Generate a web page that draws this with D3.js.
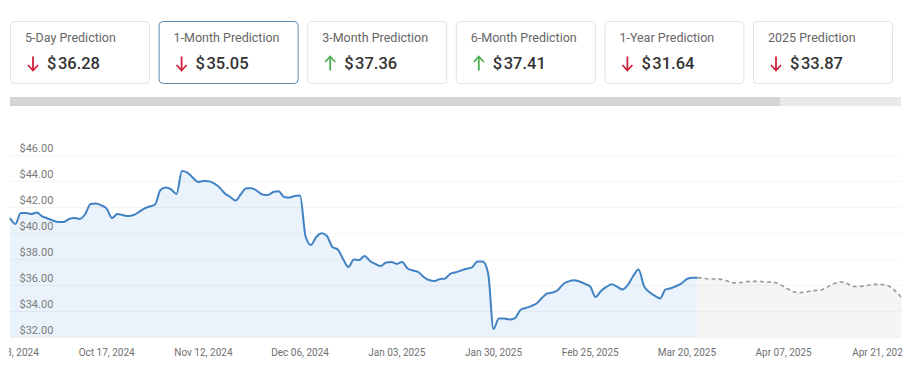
<!DOCTYPE html>
<html>
<head>
<meta charset="utf-8">
<script src="https://cdn.jsdelivr.net/npm/d3@7"></script>
<style>
  body { margin: 0; background: #fff; font-family: Roboto, "Noto Sans", sans-serif; }
  svg { display: block; }
</style>
</head>
<body>
<svg id="chart"></svg>
<script>
var width = 911, height = 367;

// prediction cards
var cardTitles = ["5-Day Prediction", "1-Month Prediction", "3-Month Prediction", "6-Month Prediction", "1-Year Prediction", "2025 Prediction"];
var cardValues = [36.28, 35.05, 37.36, 37.41, 31.64, 33.87];
var cardUp = [false, false, true, true, false, false];
var selectedCard = 1;

// closing prices (one per trading day)
var closes = [
  41.15, 40.69, 41.54, 41.54, 41.46, 41.58, 41.27, 41.12, 40.96, 40.85,
  40.85, 41.08, 41.15, 41.08, 41.46, 42.23, 42.27, 42.12, 41.88, 41.15,
  41.46, 41.38, 41.31, 41.38, 41.62, 41.88, 42.04, 42.19, 43.31, 43.50,
  43.35, 43.00, 44.77, 44.65, 44.27, 43.92, 44.00, 43.98, 43.81, 43.50,
  43.04, 42.77, 42.50, 43.00, 43.44, 43.44, 43.23, 42.96, 42.92, 43.15,
  43.21, 42.77, 42.73, 42.85, 42.88, 39.77, 39.08, 39.69, 39.98, 39.77,
  38.92, 38.73, 38.00, 37.38, 37.96, 37.92, 38.23, 37.85, 37.62, 37.46,
  37.73, 37.77, 37.62, 37.77, 37.27, 37.12, 37.00, 36.62, 36.38, 36.31,
  36.45, 36.50, 36.88, 36.98, 37.12, 37.25, 37.35, 37.81, 37.81, 36.90,
  32.62, 33.42, 33.42, 33.35, 33.46, 34.08, 34.23, 34.38, 34.58, 35.00,
  35.35, 35.42, 35.62, 36.08, 36.28, 36.37, 36.27, 36.09, 35.88, 35.08,
  35.54, 35.85, 36.05, 35.88, 35.65, 36.00, 36.69, 37.19, 35.92, 35.46,
  35.19, 34.96, 35.65, 35.75, 35.92, 36.12, 36.46, 36.56, 36.56
];

// forecast, starting at the last close
var forecast = [
  36.56, 36.54, 36.46, 36.46, 36.45, 36.38, 36.23, 36.15, 36.19, 36.25,
  36.28, 36.28, 36.26, 36.23, 36.21, 36.12, 35.88, 35.65, 35.46, 35.41,
  35.46, 35.54, 35.59, 35.62, 35.81, 36.04, 36.19, 36.23, 36.08, 35.88,
  35.88, 35.94, 36.00, 36.05, 36.05, 36.00, 35.81, 35.46, 35.00
];

var tickLabels = ["Sep 23, 2024", "Oct 17, 2024", "Nov 12, 2024", "Dec 06, 2024", "Jan 03, 2025",
                  "Jan 30, 2025", "Feb 25, 2025", "Mar 20, 2025", "Apr 07, 2025", "Apr 21, 2025"];
var tickEvery = 18;
var yTicks = [32, 34, 36, 38, 40, 42, 44, 46];

var svg = d3.select("#chart").attr("width", width).attr("height", height);

// ---- cards ----
var cardW = 139, cardH = 62, cardStep = 148.6;
var card = svg.selectAll(".card")
    .data(cardTitles)
    .enter()
    .append("g")
    .attr("class", "card")
    .attr("transform", (d, i) => "translate(" + (10.5 + i * cardStep) + ",21.5)");

card.append("rect")
    .attr("width", cardW)
    .attr("height", cardH)
    .attr("rx", 4)
    .attr("fill", "#fff")
    .attr("stroke", (d, i) => i == selectedCard ? "#5a8ab3" : "#e2e2e2");

card.append("text")
    .attr("x", 14.5)
    .attr("y", 20.5)
    .attr("fill", "#666")
    .style("font-size", "12.5px")
    .text(d => d);

card.each(function(d, i) {
    var g = d3.select(this);
    var col = cardUp[i] ? "#4caf50" : "#d0213b";
    var ax = 22.5, top = 35, bot = 49;
    g.append("line")
        .attr("x1", ax).attr("x2", ax).attr("y1", top).attr("y2", bot)
        .attr("stroke", col).attr("stroke-width", 1.8);
    var hy = cardUp[i] ? top : bot, dir = cardUp[i] ? 1 : -1;
    g.append("path")
        .attr("d", "M" + (ax - 5) + "," + (hy + dir * 5.5) + "L" + ax + "," + hy + "L" + (ax + 5) + "," + (hy + dir * 5.5))
        .attr("fill", "none").attr("stroke", col).attr("stroke-width", 1.8);
    var t = g.append("text")
        .attr("x", 36.5).attr("y", 47)
        .attr("fill", "#333")
        .style("font-size", "16.5px")
        .style("font-weight", 500);
    t.append("tspan").text("$");
    t.append("tspan").attr("dx", 1.5).text(cardValues[i].toFixed(2));
});

// ---- range bar ----
svg.append("rect").attr("x", 10).attr("y", 97).attr("width", 891).attr("height", 9).attr("fill", "#e9e9ea");
svg.append("rect").attr("x", 10).attr("y", 97).attr("width", 770).attr("height", 9).attr("fill", "#d3d4d6");

// ---- chart ----
var x = d3.scaleLinear()
    .domain([0, closes.length - 1 + forecast.length - 1])
    .range([10, 901.8]);
var y = d3.scaleLinear().domain([32, 46]).range([337, 155]);
var off = closes.length - 1;

var area = d3.area().curve(d3.curveMonotoneX).y0(y(32)).y1(d => y(d));
var line = d3.line().curve(d3.curveMonotoneX).y(d => y(d));

svg.append("path")
    .datum(closes)
    .attr("fill", "#eaf2fc")
    .attr("d", area.x((d, i) => x(i)));

svg.append("path")
    .datum(forecast)
    .attr("fill", "#f5f5f5")
    .attr("d", area.x((d, i) => x(i + off)));

svg.selectAll(".grid")
    .data(yTicks)
    .enter()
    .append("line")
    .attr("class", "grid")
    .attr("x1", 10).attr("x2", 901)
    .attr("y1", d => y(d) + 0.5).attr("y2", d => y(d) + 0.5)
    .attr("stroke", "#000")
    .attr("stroke-opacity", (d) => d == 32 ? 0.06 : 0.04);

svg.selectAll(".ylab")
    .data(yTicks)
    .enter()
    .append("text")
    .attr("class", "ylab")
    .attr("x", 19.5)
    .attr("y", d => y(d) - 3)
    .attr("fill", "#7a7a7a")
    .style("font-size", "11px")
    .text(d => "$" + d3.format(".2f")(d));

svg.append("path")
    .datum(forecast)
    .attr("fill", "none")
    .attr("stroke", "#999")
    .attr("stroke-width", 1.6)
    .attr("stroke-dasharray", "4,3")
    .attr("d", line.x((d, i) => x(i + off)));

svg.append("path")
    .datum(closes)
    .attr("fill", "none")
    .attr("stroke", "#4283c4")
    .attr("stroke-width", 2)
    .attr("stroke-linejoin", "round")
    .attr("d", line.x((d, i) => x(i)));

// x labels are clipped to the chart box, like the original
svg.append("clipPath").attr("id", "xclip")
    .append("rect").attr("x", 9).attr("y", 340).attr("width", 894).attr("height", 27);

svg.append("g")
    .attr("clip-path", "url(#xclip)")
    .selectAll(".xlab")
    .data(tickLabels)
    .enter()
    .append("text")
    .attr("class", "xlab")
    .attr("x", (d, i) => x(i * tickEvery))
    .attr("y", 356)
    .attr("text-anchor", "middle")
    .attr("fill", "#6f6f6f")
    .style("font-size", "10px")
    .text(d => d);
</script>
</body>
</html>
